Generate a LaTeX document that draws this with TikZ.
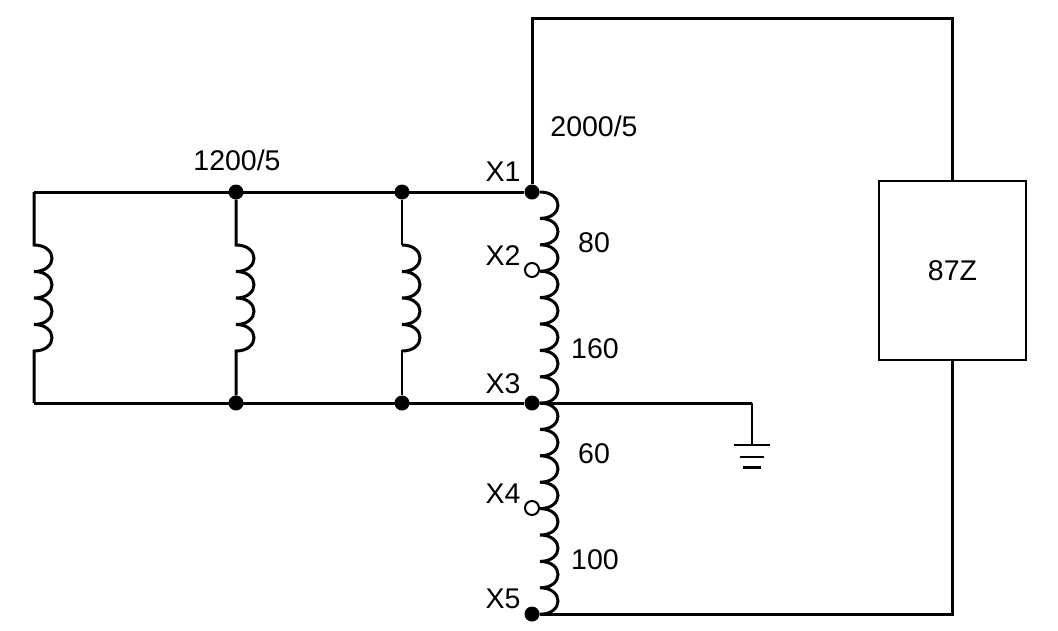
\documentclass[tikz,border=0pt]{standalone}
\usepackage{fontspec}
\setmainfont{Liberation Sans}
\usetikzlibrary{positioning}
\tikzstyle{wire} = [draw, line width=3pt]
\tikzstyle{wire1} = [draw, line width=2pt]
\tikzstyle{dot} = [circle, fill=black, inner sep=0pt, minimum size=15pt]
\tikzstyle{tap} = [circle, draw, fill=white, line width=2pt, inner sep=0pt, minimum size=14pt]
\tikzstyle{tag} = [inner sep=0pt, font=\fontsize{28.5}{30}\selectfont]
\newcommand{\coil}[2]{\foreach \n in {1,...,#1} {.. controls +(24pt,0) and +(24pt,0) .. ++(0,-#2)}}
\begin{document}
\begin{tikzpicture}[on grid, x=1pt, y=1pt]
	\useasboundingbox (0,0) rectangle (1058,-630);
	\node[dot] (X1) at (532,-192) {};
	\node[tap] (X2) [below = 78pt of X1] {};
	\node[dot] (X3) [below = 211pt of X1] {};
	\node[tap] (X4) [below = 105pt of X3] {};
	\node[dot] (X5) [below = 211pt of X3] {};
	\node[dot] (A) [left = 130pt of X1] {};
	\node[dot] (B) [left = 296pt of X1] {};
	\node[dot] (C) [left = 130pt of X3] {};
	\node[dot] (D) [left = 296pt of X3] {};
	\coordinate [left = 498pt of X1] (TL);
	\coordinate [left = 498pt of X3] (BL);
	\coordinate [above = 174pt of X1] (TM);
	\coordinate [right = 420pt of TM] (TR);
	\coordinate [right = 420pt of X5] (BR);
	\coordinate [right = 220pt of X3] (G);
	\node[draw, line width=2pt, minimum width=147pt, minimum height=179pt, tag] (R) at (952.5,-270.5) {87Z};
	\coordinate [below = 42pt of G] (G1);
	\coordinate [below = 54pt of G] (G2);
	\coordinate [below = 64pt of G] (G3);
	\coordinate [below = 53pt of A] (A1);
	\coordinate [above = 53pt of C] (C1);

	\node[tag] (T1) [above left = 20pt and 29pt of X1] {X1};
	\node[tag] (T2) [above left = 14pt and 29pt of X2] {X2};
	\node[tag] (T3) [above left = 19pt and 29pt of X3] {X3};
	\node[tag] (T4) [above left = 14pt and 29pt of X4] {X4};
	\node[tag] (T5) [above left = 15pt and 29pt of X5] {X5};
	\node[tag] (N1) [below right = 51pt and 62pt of X1] {80};
	\node[tag] (N2) [above right = 54pt and 63pt of X3] {160};
	\node[tag] (N3) [below right = 51pt and 62pt of X3] {60};
	\node[tag] (N4) [above right = 54pt and 63pt of X5] {100};
	\node[tag] (N5) [above = 32pt of A, xshift=-165pt] {1200/5};
	\node[tag] (N6) [above right = 66pt and 62pt of X1] {2000/5};

	\path [wire] (TL) -- (X1);
	\path [wire] (BL) -- (X3);
	\path [wire] (X1) -- (TM) -- (TR) -- (R.north -| TR);
	\path [wire] (R.south -| BR) -- (BR) -- (X5);
	\path [wire] (X3) -- (G);
	\path [wire1] (G) -- (G1);
	\path [wire1] (G1) ++(-18pt,0) -- ++(36pt,0);
	\path [wire1] (G2) ++(-12pt,0) -- ++(24pt,0);
	\path [wire] (G3) ++(-9pt,0) -- ++(18pt,0);

	% tapped winding
	\path [wire] (X1) -- ++(8pt,0) \coil{8}{26.4pt} -- (X3);
	\path [wire] (X3) -- ++(8pt,0) \coil{8}{26.4pt} -- (X5);
	\path [wire1] (X2) -- ++(8pt,0);
	\path [wire1] (X4) -- ++(8pt,0);

	% parallel windings
	\path [wire] (TL) -- ++(0,-53pt) \coil{4}{26.5pt} -- (BL);
	\path [wire] (B) -- ++(0,-53pt) \coil{4}{26.5pt} -- (D);
	\path [wire1] (A) -- (A1);
	\path [wire] (A1) \coil{4}{26.5pt};
	\path [wire1] (C1) -- (C);
\end{tikzpicture}
\end{document}
